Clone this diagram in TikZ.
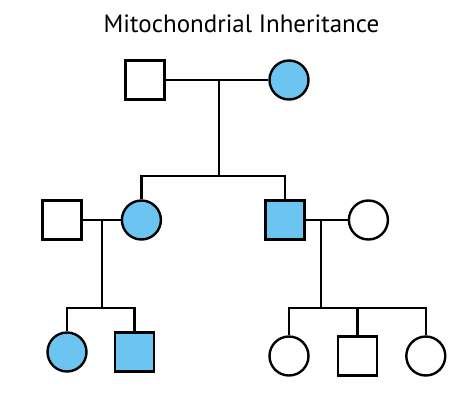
\documentclass[tikz,border=0pt]{standalone}
\usepackage{fontspec}
\setmainfont{PT Sans}
\usepackage{xcolor}
\usepackage{tikz}
\usetikzlibrary{positioning}

\definecolor{affected}{RGB}{108,197,240}

\begin{document}
\begin{tikzpicture}[
  x=1pt, y=-1pt,
  male/.style={draw, rectangle, line width=2.4pt, minimum size=39pt, inner sep=0pt},
  female/.style={draw, circle, line width=2.4pt, minimum size=39pt, inner sep=0pt},
  aff/.style={fill=affected},
  ln/.style={line width=2.4pt}]
\useasboundingbox[fill=white] (0,0) rectangle (474,400);
\node[anchor=base, font=\fontsize{25}{30}\selectfont] (title) at (241.5,32) {Mitochondrial Inheritance};
% generation I
\node[male] (gf) at (145,80) {};
\node[female, aff] (gm) at (289,80) {};
% generation II
\node[male] (inlawm) at (62,220) {};
\node[female, aff, right=38pt of inlawm] (dau) {};
\node[male, aff] (son) at (285,220) {};
\node[female, right=42pt of son] (inlawf) {};
% generation III
\node[female, aff] (gd1) at (67,352) {};
\node[male, aff, right=26pt of gd1] (gs1) {};
\node[female] (gd2) at (289,356) {};
\node[male, right=27pt of gd2] (gs2) {};
\node[female, right=27pt of gs2] (gd3) {};
% couples and sibships
\coordinate (c1) at (219,80);
\coordinate (s1) at (219,176);
\coordinate (c2) at (101.7,220);
\coordinate (s2) at (101.7,308);
\coordinate (c3) at (321,220);
\coordinate (s3) at (321,308);
\draw[ln] (gf) -- (gm);
\draw[ln] (c1) -- (s1);
\draw[ln] (dau.north) |- (s1) -| (son.north);
\draw[ln] (inlawm) -- (dau);
\draw[ln] (c2) -- (s2);
\draw[ln] (gd1.north) |- (s2) -| (gs1.north);
\draw[ln] (son) -- (inlawf);
\draw[ln] (c3) -- (s3);
\draw[ln] (gd2.north) |- (s3) -| (gd3.north);
\draw[ln] (gs2.north) -- (gs2.north |- s3);
\end{tikzpicture}
\end{document}
